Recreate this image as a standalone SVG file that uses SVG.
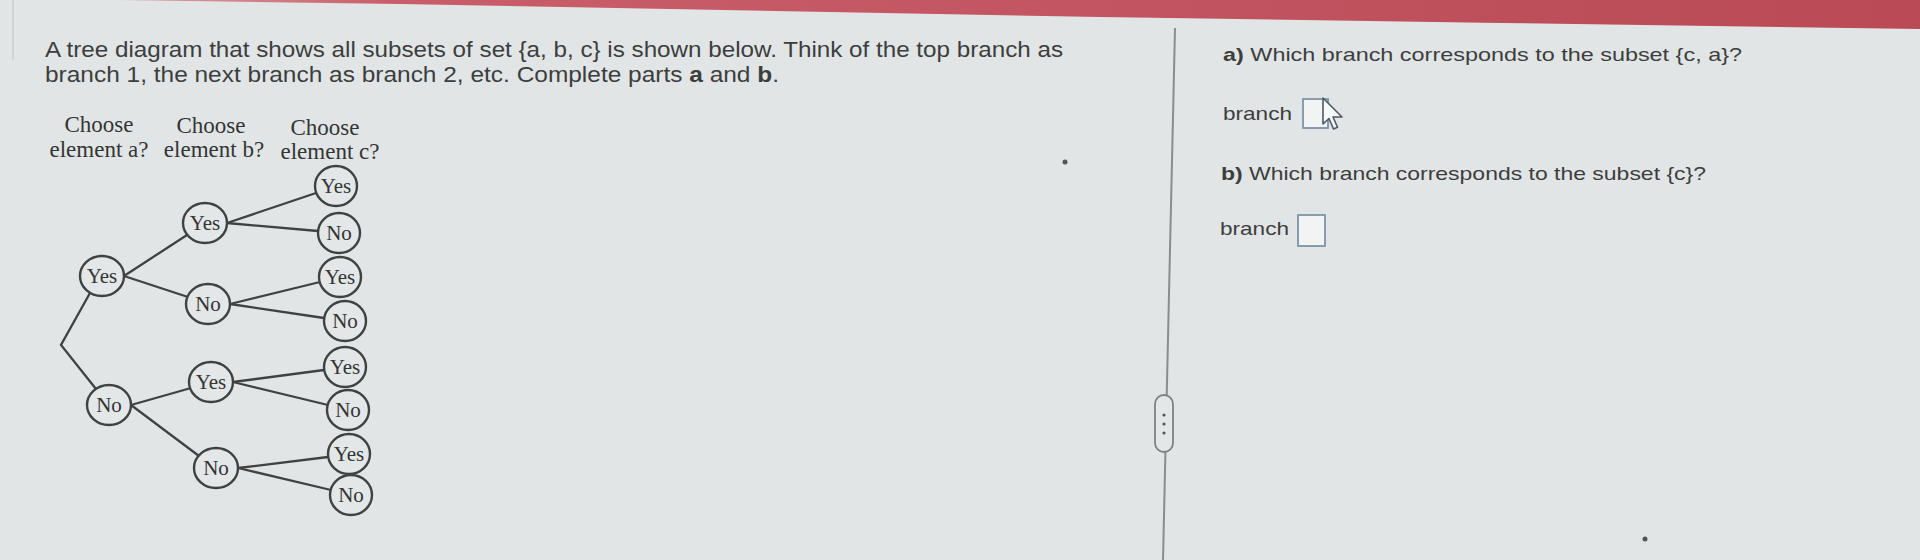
<svg xmlns="http://www.w3.org/2000/svg" width="1920" height="560" viewBox="0 0 1920 560">
<defs>
<linearGradient id="band" x1="0" y1="0" x2="1" y2="0">
<stop offset="0" stop-color="#d8a0a6"/>
<stop offset="0.15" stop-color="#c95e6a"/>
<stop offset="1" stop-color="#b94a56"/>
</linearGradient>
<style>
.sans{font-family:"Liberation Sans",Arial,sans-serif;fill:#3c3e3e;}
.serif{font-family:"Liberation Serif","Times New Roman",serif;fill:#333535;}
.hdr{font-size:23px;text-anchor:middle;}
.node ellipse{fill:#e4e7e7;stroke:#404242;stroke-width:2.4;}
.node text{font-family:"Liberation Serif","Times New Roman",serif;font-size:21px;fill:#333535;text-anchor:middle;}
#connectors line,#connectors polyline{stroke:#404242;stroke-width:2.3;fill:none;}
.box{fill:#f2f4f4;stroke:#7f93a8;stroke-width:1.8;}
</style>
</defs>
<rect x="0" y="0" width="1920" height="560" fill="#e2e5e5"/>
<polygon points="120,0 1920,0 1920,29 1500,23 1100,17 400,4" fill="url(#band)"/>
<line x1="13" y1="0" x2="13" y2="60" stroke="#c9cdcd" stroke-width="1.5"/>

<text class="sans" x="45" y="57" font-size="22" textLength="1018" lengthAdjust="spacingAndGlyphs">A tree diagram that shows all subsets of set {a, b, c} is shown below. Think of the top branch as</text>
<text class="sans" x="45" y="82" font-size="22" textLength="734" lengthAdjust="spacingAndGlyphs">branch 1, the next branch as branch 2, etc. Complete parts <tspan font-weight="bold">a</tspan> and <tspan font-weight="bold">b</tspan>.</text>

<g id="headers">
<text class="serif hdr" x="99" y="132">Choose</text>
<text class="serif hdr" x="99" y="157">element a?</text>
<text class="serif hdr" x="211" y="133">Choose</text>
<text class="serif hdr" x="214" y="157">element b?</text>
<text class="serif hdr" x="325" y="135">Choose</text>
<text class="serif hdr" x="330" y="159">element c?</text>
</g>

<g id="connectors">
<polyline points="90,293 61,345 96,389"/>
<line x1="124" y1="276" x2="187" y2="235"/>
<line x1="124" y1="276" x2="188" y2="297"/>
<line x1="131" y1="405" x2="191" y2="388"/>
<line x1="131" y1="405" x2="199" y2="456"/>
<line x1="227" y1="223" x2="316" y2="193"/>
<line x1="227" y1="223" x2="318" y2="231"/>
<line x1="230" y1="304" x2="320" y2="282"/>
<line x1="230" y1="304" x2="324" y2="318"/>
<line x1="233" y1="382" x2="324" y2="370"/>
<line x1="233" y1="382" x2="328" y2="405"/>
<line x1="238" y1="468" x2="328" y2="457"/>
<line x1="238" y1="468" x2="331" y2="490"/>
</g>

<g id="a-yes" class="node"><ellipse cx="102" cy="276" rx="22" ry="20"/><text x="102" y="283">Yes</text></g>
<g id="a-no" class="node"><ellipse cx="109" cy="405" rx="22" ry="20"/><text x="109" y="412">No</text></g>
<g id="b-yes-1" class="node"><ellipse cx="205" cy="223" rx="22" ry="20"/><text x="205" y="230">Yes</text></g>
<g id="b-no-1" class="node"><ellipse cx="208" cy="304" rx="22" ry="20"/><text x="208" y="311">No</text></g>
<g id="b-yes-2" class="node"><ellipse cx="211" cy="382" rx="22" ry="20"/><text x="211" y="389">Yes</text></g>
<g id="b-no-2" class="node"><ellipse cx="216" cy="468" rx="22" ry="20"/><text x="216" y="475">No</text></g>
<g id="c-1" class="node"><ellipse cx="336" cy="186" rx="21" ry="20"/><text x="336" y="193">Yes</text></g>
<g id="c-2" class="node"><ellipse cx="339" cy="233" rx="21" ry="20"/><text x="339" y="240">No</text></g>
<g id="c-3" class="node"><ellipse cx="340" cy="277" rx="21" ry="20"/><text x="340" y="284">Yes</text></g>
<g id="c-4" class="node"><ellipse cx="345" cy="321" rx="21" ry="20"/><text x="345" y="328">No</text></g>
<g id="c-5" class="node"><ellipse cx="345" cy="367" rx="21" ry="20"/><text x="345" y="374">Yes</text></g>
<g id="c-6" class="node"><ellipse cx="348" cy="410" rx="21" ry="20"/><text x="348" y="417">No</text></g>
<g id="c-7" class="node"><ellipse cx="349" cy="454" rx="21" ry="20"/><text x="349" y="461">Yes</text></g>
<g id="c-8" class="node"><ellipse cx="351" cy="495" rx="21" ry="20"/><text x="351" y="502">No</text></g>

<circle cx="1065" cy="162" r="2.5" fill="#555"/>
<circle cx="1645" cy="539" r="2.5" fill="#555"/>

<g id="divider">
<line x1="1175" y1="28" x2="1163" y2="560" stroke="#8a8d8d" stroke-width="2"/>
<rect x="1155" y="395" width="18" height="57" rx="9" fill="#e4e7e7" stroke="#7f8282" stroke-width="1.8"/>
<circle cx="1164" cy="415" r="1.6" fill="#555"/>
<circle cx="1164" cy="424" r="1.6" fill="#555"/>
<circle cx="1164" cy="433" r="1.6" fill="#555"/>
</g>

<g id="questions">
<text class="sans" x="1223" y="61" font-size="19" textLength="519" lengthAdjust="spacingAndGlyphs"><tspan font-weight="bold">a)</tspan> Which branch corresponds to the subset {c, a}?</text>
<text class="sans" x="1223" y="120" font-size="19" textLength="69" lengthAdjust="spacingAndGlyphs">branch</text>
<rect class="box" x="1303" y="99" width="25" height="29"/>
<text class="sans" x="1221" y="180" font-size="19" textLength="485" lengthAdjust="spacingAndGlyphs"><tspan font-weight="bold">b)</tspan> Which branch corresponds to the subset {c}?</text>
<text class="sans" x="1220" y="235" font-size="19" textLength="69" lengthAdjust="spacingAndGlyphs">branch</text>
<rect class="box" x="1298" y="215" width="27" height="31"/>
<path d="M1323,98 L1323,124 L1329,118.5 L1333.5,129 L1337.5,127.3 L1333,117 L1342,117 Z" fill="#f7f8f8" stroke="#4d5a66" stroke-width="1.6" stroke-linejoin="round"/>
</g>
</svg>
